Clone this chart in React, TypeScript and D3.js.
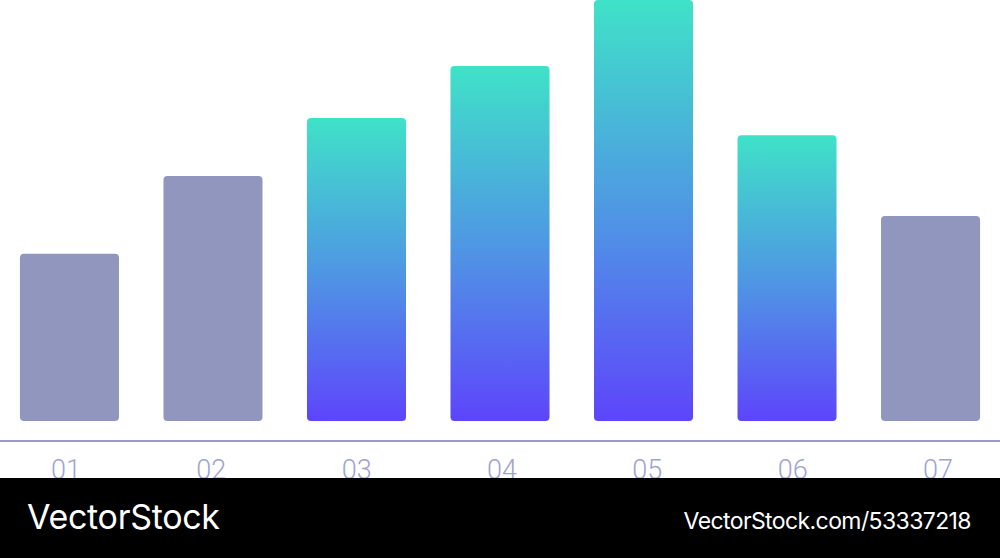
import { useEffect, useRef } from 'react';
import * as d3 from 'd3';

const categories = ['01', '02', '03', '04', '05', '06', '07'];
const values = [39.7, 58.2, 72, 84.3, 100, 67.9, 48.7];
const highlighted = [false, false, true, true, true, true, false];

export default function App() {
  const ref = useRef<SVGSVGElement>(null);

  useEffect(() => {
    if (!ref.current) return;
    const svg = d3.select(ref.current);
    svg.selectAll('*').remove();

    const width = 1000;
    const height = 558;

    const x = d3.scaleBand<string>()
      .domain(categories)
      .range([0, 1000])
      .paddingInner(0.31)
      .paddingOuter(0.139);
    // labels sit on a slightly wider spacing than the bars
    const xLabel = d3.scalePoint<string>()
      .domain(categories)
      .range([66, 938]);
    const y = d3.scaleLinear().domain([0, 100]).range([421, 0]);

    svg.append('rect').attr('width', width).attr('height', height).attr('fill', '#ffffff');

    const defs = svg.append('defs');
    const grad = defs.append('linearGradient')
      .attr('id', 'bar-grad')
      .attr('x1', 0).attr('y1', 1).attr('x2', 0).attr('y2', 0);
    grad.append('stop').attr('offset', '0%').attr('stop-color', '#5d45fb');
    grad.append('stop').attr('offset', '45%').attr('stop-color', '#5090e6');
    grad.append('stop').attr('offset', '100%').attr('stop-color', '#3fe2c8');

    // bars
    svg.append('g')
      .selectAll('rect')
      .data(categories)
      .join('rect')
      .attr('x', d => x(d)!)
      .attr('y', (_, i) => y(values[i]))
      .attr('width', x.bandwidth())
      .attr('height', (_, i) => y(0) - y(values[i]))
      .attr('rx', 4)
      .attr('fill', (_, i) => (highlighted[i] ? 'url(#bar-grad)' : '#9196be'));

    // baseline
    svg.append('line')
      .attr('x1', 0).attr('x2', width)
      .attr('y1', 441).attr('y2', 441)
      .attr('stroke', '#9b9bcb')
      .attr('stroke-width', 2);

    // category labels
    svg.append('g')
      .selectAll('text')
      .data(categories)
      .join('text')
      .attr('x', d => xLabel(d)!)
      .attr('y', 479)
      .attr('text-anchor', 'middle')
      .attr('fill', '#9fa3d2')
      .attr('font-family', 'Roboto, sans-serif')
      .attr('font-weight', 300)
      .attr('font-size', 27)
      .text(d => d);

    // footer band
    svg.append('rect')
      .attr('x', 0).attr('y', 478)
      .attr('width', width).attr('height', 80)
      .attr('fill', '#000000');

    svg.append('text')
      .attr('x', 27).attr('y', 529)
      .attr('fill', '#ffffff')
      .attr('font-family', 'Inter, "Noto Sans", sans-serif')
      .attr('font-size', 34)
      .attr('letter-spacing', -0.3)
      .text('VectorStock');

    svg.append('text')
      .attr('x', 971).attr('y', 529)
      .attr('text-anchor', 'end')
      .attr('fill', '#ffffff')
      .attr('font-family', 'Inter, "Noto Sans", sans-serif')
      .attr('font-size', 23)
      .attr('letter-spacing', -0.6)
      .text('VectorStock.com/53337218');
  }, []);

  return (
    <div style={{ position: 'fixed', left: 0, top: 0, width: 1000, height: 558 }}>
      <svg ref={ref} width={1000} height={558} style={{ display: 'block' }} />
    </div>
  );
}
